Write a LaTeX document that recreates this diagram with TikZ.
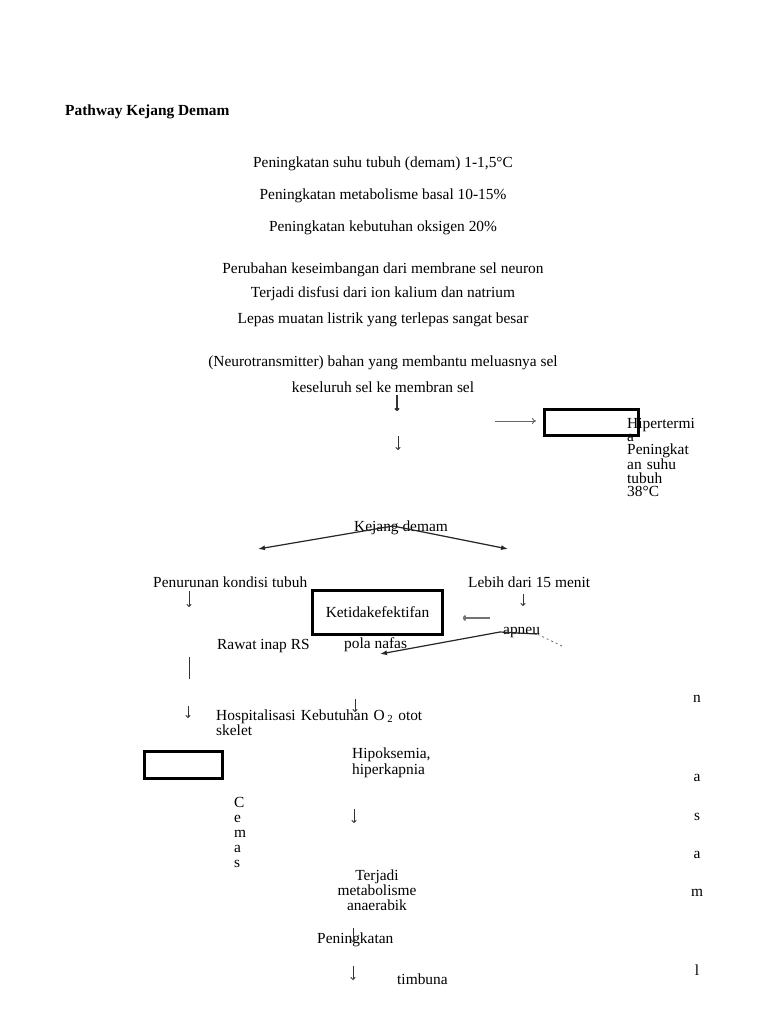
\documentclass[tikz,border=0pt]{standalone}
\usepackage{fontspec}
\setmainfont{Liberation Serif}
\usetikzlibrary{arrows.meta}

\tikzset{
  teks/.style={font=\fontsize{15.4}{16}\selectfont, inner sep=0pt},
  kotak/.style={draw, line width=3pt, inner sep=0pt},
  panah/.style={-{Latex[length=7pt,width=5pt]}, line width=1.2pt, black!85},
  panahkecil/.style={-{To[length=3pt,width=5pt]}, line width=0.9pt, black!80},
}

\begin{document}
\begin{tikzpicture}[x=1pt,y=-1pt]
\useasboundingbox[fill=white] (0,0) rectangle (768,1024);

% Judul dan baris atas
\node[teks, anchor=base west, font=\fontsize{15.4}{16}\selectfont\bfseries] (judul) at (65,116) {Pathway Kejang Demam};
\foreach \nama/\y/\isi in {suhu/168/{Peningkatan suhu tubuh (demam) 1-1,5°C},
    basal/200/{Peningkatan metabolisme basal 10-15\%},
    oksigen/232/{Peningkatan kebutuhan oksigen 20\%},
    neuron/273/{Perubahan keseimbangan dari membrane sel neuron},
    difusi/297/{Terjadi disfusi dari ion kalium dan natrium},
    muatan/323/{Lepas muatan listrik yang terlepas sangat besar},
    neuro/366/{(Neurotransmitter) bahan yang membantu meluasnya sel},
    membran/392/{keseluruh sel ke membran sel}}
  \node[teks, anchor=base] (\nama) at (383,\y) {\isi};

\node[teks, anchor=base west, text width=80pt, align=left, font=\fontsize{15.4}{13.4}\selectfont] (hipertermi) at (627,428) {Hipertermi\\a\\Peningkat\\an suhu\\tubuh\\38°C};
\node[kotak, minimum width=94pt, minimum height=26pt] (kotaksuhu) at (591.5,422.5) {};

% Kejang demam dan cabangnya
\node[teks, anchor=base] (kejang) at (401,531) {Kejang demam};
\node[teks, anchor=base west] (penurunan) at (153,587) {Penurunan kondisi tubuh};
\node[teks, anchor=base west] (lebih) at (468,587) {Lebih dari 15 menit};
\node[teks, kotak, minimum width=130pt, minimum height=44pt] (ketidak) at (377.5,612.5) {Ketidakefektifan};
\node[teks, anchor=base west] (apneu) at (503,634) {apneu};
\node[teks, anchor=base west] (pola) at (344,648) {pola nafas};
\node[teks, anchor=base west] (rawat) at (217,649) {Rawat inap RS};

\node[teks, anchor=base west, text width=260pt, align=left, font=\fontsize{15.4}{15}\selectfont] (hospital) at (216,720) {Hospitalisasi Kebutuhan O\,\textsubscript{2} otot\\skelet};
\node[kotak, minimum width=78pt, minimum height=27pt] (kotakcemas) at (183.5,765) {};
\node[teks, anchor=base west, text width=90pt, align=left] (hipoksemia) at (352,758) {Hipoksemia,\\hiperkapnia};
\node[teks, anchor=base west, text width=12pt, align=left, font=\fontsize{15.4}{15}\selectfont] (cemas) at (234,807) {C\\e\\m\\a\\s};
\node[teks, anchor=base, text width=90pt, align=center, font=\fontsize{15.4}{15}\selectfont] (anaerob) at (377,880) {Terjadi\\metabolisme\\anaerabik};
\node[teks, anchor=base west] (peningkatan) at (317,943) {Peningkatan};
\node[teks, anchor=base west] (timbuna) at (397,984) {timbuna};

\foreach \h/\y in {n/702, a/781, s/820, a/858, m/896, l/975}
  \node[teks, anchor=base] (kanan\y) at (697,\y) {\h};

% Panah
\coordinate (puncak) at (393,526);
\coordinate (kiri) at (258,549);
\coordinate (kanan) at (508,549);
\draw[panah] (puncak) -- (kiri);
\draw[panah] (puncak) -- (kanan);

\coordinate (ekorapneu) at (562,646);
\coordinate (tekuk) at (537,634);
\coordinate (tengahapneu) at (500,632);
\coordinate (ujungnafas) at (380,654);
\draw[dash pattern=on 2pt off 3pt, line width=0.8pt, black!60] (ekorapneu) -- (tekuk);
\draw[panah] (tekuk) -- (tengahapneu) -- (ujungnafas);

\coordinate (mulaisuhu) at (495,421);
\coordinate (akhirsuhu) at (536,421);
\draw[-{To[length=4pt,width=6pt]}, line width=0.9pt, black!60] (mulaisuhu) -- (akhirsuhu);
\coordinate (mulainafas) at (490,618);
\coordinate (akhirnafas) at (463,618);
\draw[-{To[length=3pt,width=6pt]}, line width=2.4pt, black!55] (mulainafas) -- (akhirnafas);

\foreach \i/\x/\ya/\yb/\w in {1/397/395/411/1.6, 2/398/436/450/1.0, 3/189/591/607/0.9, 4/523/594/606/1.0,
    5/188/706/718/0.9, 6/355/699/712/1.0, 7/354/809/823/0.9, 8/353/928/942/0.7, 9/353/966/980/0.8} {
  \coordinate (pa\i) at (\x,\ya);
  \coordinate (pb\i) at (\x,\yb);
  \draw[panahkecil, line width=\w pt] (pa\i) -- (pb\i);
}
\coordinate (garisatas) at (189,657);
\coordinate (garisbawah) at (189,679);
\draw[line width=0.9pt, black!80] (garisatas) -- (garisbawah);
\end{tikzpicture}
\end{document}
